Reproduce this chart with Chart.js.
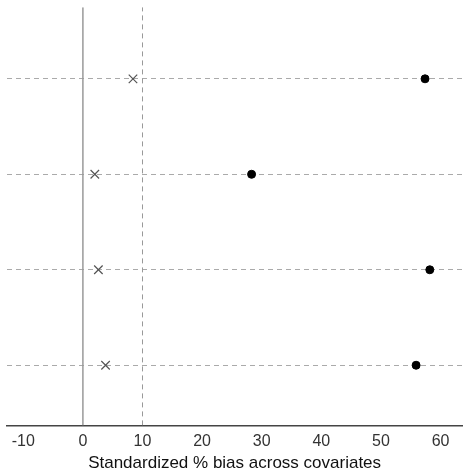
<!DOCTYPE html>
<html><head><meta charset="utf-8">
<script src="https://cdn.jsdelivr.net/npm/chart.js@4"></script>
<style>html,body{margin:0;background:#fff}#wrap{width:474px;height:474px}</style>
</head><body><div id="wrap"><canvas id="c"></canvas></div>
<script>
// rows top to bottom
const rows = [4, 3, 2, 1];
const matched = [8.4, 2.0, 2.6, 3.8];
const unmatched = [57.4, 28.3, 58.2, 55.9];
const xTicks = [-10, 0, 10, 20, 30, 40, 50, 60];

const ctx = document.getElementById("c").getContext("2d");
new Chart(ctx, {
  type: "scatter",
  data: {
    datasets: [
      { type: "line", data: [{x: 0, y: 0.37}, {x: 0, y: 4.75}], borderColor: "#999", borderWidth: 1.5, pointRadius: 0 },
      { type: "line", data: [{x: 10, y: 0.37}, {x: 10, y: 4.75}], borderColor: "#999", borderWidth: 1, borderDash: [5, 4], pointRadius: 0 },
      { label: "Matched", data: rows.map((y, i) => ({x: matched[i], y})), pointStyle: "crossRot", pointRadius: 6, borderColor: "#555", borderWidth: 1.2 },
      { label: "Unmatched", data: rows.map((y, i) => ({x: unmatched[i], y})), pointStyle: "circle", pointRadius: 4, backgroundColor: "#000", borderColor: "#000" }
    ]
  },
  options: {
    responsive: true, maintainAspectRatio: false, animation: false,
    layout: { padding: { left: 0, right: 12, top: 0, bottom: 0 } },
    plugins: { legend: { display: false }, tooltip: { enabled: false } },
    scales: {
      x: {
        type: "linear", min: -12.7, max: 63.6,
        afterBuildTicks: (a) => { a.ticks = xTicks.map(v => ({ value: v })); },
        grid: { display: false, drawTicks: true, tickLength: 5, tickColor: "#444" },
        border: { color: "#444", width: 1.5 },
        ticks: { color: "#333", font: { family: "Liberation Sans", size: 16 }, padding: 2 },
        title: { display: true, text: "Standardized % bias across covariates", color: "#111", font: { family: "Liberation Sans", size: 17 }, padding: { top: 0, bottom: 0 } }
      },
      y: {
        type: "linear", min: 0.37, max: 4.75,
        afterBuildTicks: (a) => { a.ticks = rows.map(v => ({ value: v })); },
        afterFit: (a) => { a.width = 0; },
        ticks: { display: false },
        border: { display: false, dash: [5, 4] },
        grid: { color: "#aaa", drawTicks: false }
      }
    }
  }
});
</script></body></html>
